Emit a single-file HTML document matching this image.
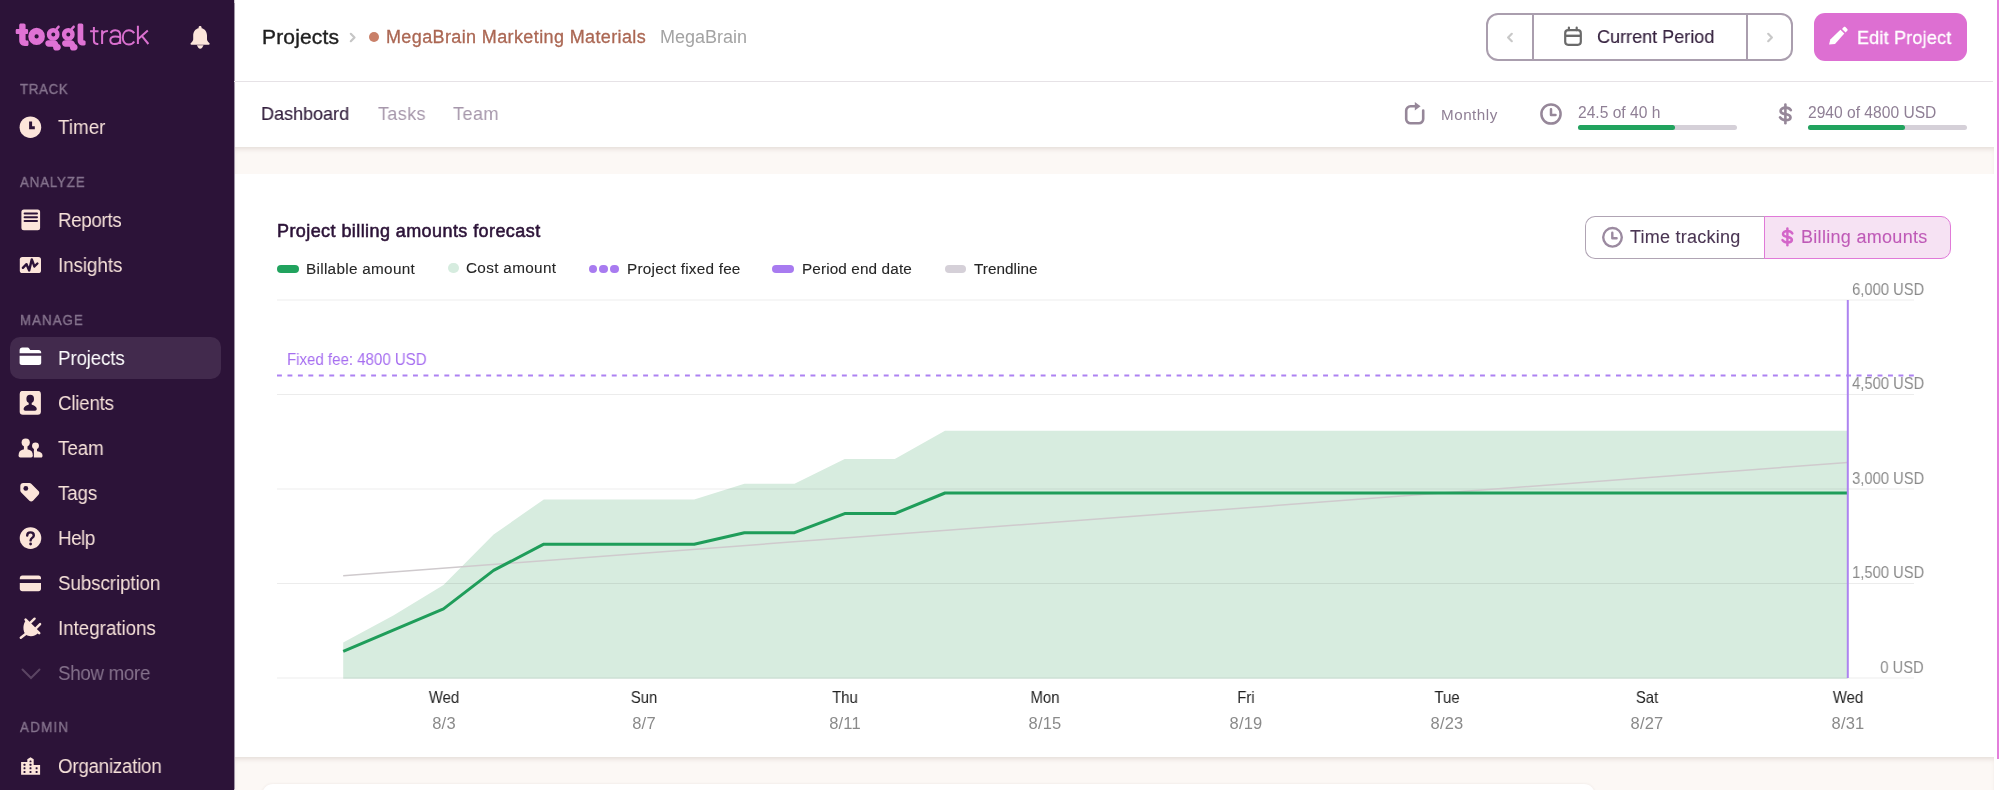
<!DOCTYPE html>
<html><head><meta charset="utf-8"><title>Toggl Track - Project</title>
<style>
html,body{margin:0;padding:0;width:1999px;height:790px;overflow:hidden;background:#fff;font-family:"Liberation Sans",sans-serif}
.t{position:absolute;white-space:nowrap;line-height:1;will-change:transform}
.a{position:absolute}
#sb{position:absolute;left:0;top:0;width:234px;height:790px;background:#2c1338;box-shadow:0.6px 0 1px rgba(44,19,56,0.45)}
.band{position:absolute;left:235px;width:1758.5px;background:#fcf8f5;box-shadow:inset 0 4px 5px -2px rgba(120,95,85,0.18)}
</style></head><body>
<div id="sb"></div>
<svg class="a" style="left:0;top:0" width="160" height="60" viewBox="0 0 160 60">
<g fill="#df72d4">
<path d="M19.2 25.2c0-1 .8-1.7 1.7-1.7h3c1 0 1.7.8 1.7 1.7v3.7h1.2c.8 0 1.3.6 1.3 1.3v2.5c0 .8-.6 1.3-1.3 1.3h-1.2v5.2c0 1 .6 1.4 1.5 1.4.9 0 1.4.5 1.4 1.3v2.5c0 .8-.6 1.5-1.5 1.5h-2.2c-3.6 0-5.6-2.1-5.6-5.6V34h-2.2c-.8 0-1.3-.6-1.3-1.3v-2.5c0-.8.6-1.3 1.3-1.3h2.2z"/>
<path fill-rule="evenodd" d="M36.6 27.8a8.3 8.6 0 1 1 0 17.2a8.3 8.6 0 1 1 0-17.2zM36.6 34.3a2.1 2.1 0 1 0 0 4.2a2.1 2.1 0 1 0 0-4.2z"/>
<path fill-rule="evenodd" d="M53.2 28a6.4 6.4 0 1 1 0 12.8a6.4 6.4 0 1 1 0-12.8zM53.3 32.6a2 2 0 1 0 0 4a2 2 0 1 0 0-4z"/>
<path d="M55.4 28.6l2.2-2.6c.5-.6 1.4-.6 1.9 0 .5.5.4 1.3-.1 1.8l-2 2.1z"/>
<path d="M48.6 40.2c-2.3 0-3.4 1.5-3.3 3.2.1 1.8 1.4 3.2 3.4 3.3h3.5c.6 0 1 .4 1 1 0 1.6 1.2 2.9 2.8 2.9h1.6c1.9 0 3.2-1.5 3.2-3.3 0-1.6-.9-2.9-2.4-3.4-.5-1.3-1.7-3.7-4-3.7z"/>
<path fill-rule="evenodd" d="M68.3 28a6.4 6.4 0 1 1 0 12.8a6.4 6.4 0 1 1 0-12.8zM68.3 32.6a2 2 0 1 0 0 4a2 2 0 1 0 0-4z"/>
<path d="M70.5 28.6l2.2-2.6c.5-.6 1.4-.6 1.9 0 .5.5.4 1.3-.1 1.8l-2 2.1z"/>
<path d="M65.4 40.2c-2.3 0-3.4 1.5-3.3 3.2.1 1.8 1.4 3.2 3.4 3.3h3.5c.6 0 1 .4 1 1 0 1.6 1.2 2.9 2.8 2.9h1.6c1.9 0 3.2-1.5 3.2-3.3 0-1.6-.9-2.9-2.4-3.4-.5-1.3-1.7-3.7-4-3.7z"/>
<path d="M77.6 25.3c0-1 .8-1.7 1.7-1.7h2.3c1 0 1.7.8 1.7 1.7v14.2c0 .6.4 1 1 1 .8 0 1.3.6 1.3 1.3v2.3c0 .8-.6 1.4-1.4 1.4h-1c-3.4 0-5.6-2-5.6-5.6z"/>
</g>
<g stroke="#da70cf" stroke-width="2" fill="none" stroke-linecap="butt">
<path d="M93.9 26.9V40.6c0 2.3 1 3.3 3.1 3.3h1.3M90.1 31.3h8.4"/>
<path d="M102.1 30.3V44M102.1 36c0-3.4 2.2-5.1 5.8-5.1"/>
<path d="M110.6 33c1-1.8 2.6-2.7 4.6-2.7 3.4 0 5 1.8 5 5.1V44M120.2 37.4c-1.3-.7-3-.9-5-.9-3.1 0-4.9 1.4-4.9 3.7 0 2.3 1.8 3.8 4.5 3.8 3 0 5.4-1.6 5.4-4.3"/>
<path d="M134.2 33.3c-1.1-1.9-3-3-5.3-3-3.6 0-6.1 3-6.1 7.1s2.5 7.1 6.1 7.1c2.3 0 4.2-1.1 5.3-3"/>
<path d="M137.9 25.8V44M147.8 30.5l-9.6 8.6M141.6 35.7l6.8 8.3"/>
</g>
</svg>
<svg class="a" style="left:189px;top:25px" width="22" height="25" viewBox="0 0 22 25">
<path d="M11.2 1c.8 0 1.4.6 1.4 1.4v.9c3.3.7 5.4 3.5 5.4 7.3v3.6c0 1.3 1 2.5 1.8 3.3l.7.8c.4.5.1 1.5-.7 1.5H2.4c-.8 0-1.1-1-.7-1.5l.7-.8c.8-.8 1.8-2 1.8-3.3v-3.6c0-3.8 2.1-6.6 5.4-7.3v-.9c0-.8.6-1.4 1.4-1.4z" fill="#fce5da"/>
<path d="M7.8 20.2h6.8l-1.5 2.5c-.9 1.3-2.9 1.3-3.8 0z" fill="#fce5da"/></svg>
<div class="t" style="left:20px;transform:scaleX(0.93);transform-origin:left center;top:81.70px;font-size:14.3px;color:#85738d;-webkit-text-stroke:0.4px #85738d;letter-spacing:0.737px;">TRACK</div>
<div class="t" style="left:20px;transform:scaleX(0.93);transform-origin:left center;top:174.60px;font-size:14.3px;color:#85738d;-webkit-text-stroke:0.4px #85738d;letter-spacing:0.894px;">ANALYZE</div>
<div class="t" style="left:20px;transform:scaleX(0.93);transform-origin:left center;top:312.60px;font-size:14.3px;color:#85738d;-webkit-text-stroke:0.4px #85738d;letter-spacing:1.127px;">MANAGE</div>
<div class="t" style="left:20px;transform:scaleX(0.93);transform-origin:left center;top:720.40px;font-size:14.3px;color:#85738d;-webkit-text-stroke:0.4px #85738d;letter-spacing:1.405px;">ADMIN</div>
<div class="a" style="left:10px;top:337px;width:211px;height:42px;border-radius:10px;background:#422a4d"></div>
<div class="t" style="left:58.2px;transform:scaleX(0.94);transform-origin:left center;top:117.27px;font-size:20px;color:#f7e2da;letter-spacing:0.019px;">Timer</div>
<svg class="a" style="left:19px;top:116px" width="23" height="23" viewBox="0 0 23 23"><circle cx="11.4" cy="11.2" r="10.8" fill="#fce5da"/><path d="M11.6 5.5v6.2h4.2" stroke="#2c1338" stroke-width="3" fill="none" stroke-linecap="butt" stroke-linejoin="miter"/></svg>
<div class="t" style="left:58.2px;transform:scaleX(0.94);transform-origin:left center;top:209.67px;font-size:20px;color:#f7e2da;letter-spacing:-0.398px;">Reports</div>
<svg class="a" style="left:21px;top:209px" width="20" height="22" viewBox="0 0 20 22"><rect x="0.4" y="0.6" width="18.7" height="20.7" rx="2.5" fill="#fce5da"/><path d="M3.6 4.4h12.4M3.6 8.2h12.4M3.6 12.1h12.4" stroke="#2c1338" stroke-width="2" stroke-linecap="round"/></svg>
<div class="t" style="left:58.2px;transform:scaleX(0.94);transform-origin:left center;top:254.67px;font-size:20px;color:#f7e2da;letter-spacing:-0.063px;">Insights</div>
<svg class="a" style="left:19px;top:256px" width="23" height="18" viewBox="0 0 23 18"><rect x="0.8" y="0.9" width="21.2" height="16.2" rx="2.6" fill="#fce5da"/><path d="M3.9 11.8L7.5 8.2L10.2 14.4L12.8 3.4L15.4 10.5L18.4 7.5" stroke="#2c1338" stroke-width="2.4" fill="none" stroke-linecap="round" stroke-linejoin="round"/></svg>
<div class="t" style="left:58.2px;transform:scaleX(0.94);transform-origin:left center;top:347.67px;font-size:20px;color:#ffffff;letter-spacing:-0.185px;">Projects</div>
<svg class="a" style="left:19px;top:347px" width="23" height="19" viewBox="0 0 23 19"><path d="M0.6 3.6C0.6 1.6 1.6 0.6 3.4 0.6H8.6C9.3 0.6 9.8 0.9 10.2 1.5L11.2 3H19.8C21.1 3 22.2 4.1 22.2 5.4V6.2H0.6Z" fill="#ffffff"/><path d="M0.6 8.7H22.2V16C22.2 17.2 21.2 18 20 18H2.8C1.6 18 0.6 17.2 0.6 16Z" fill="#ffffff"/></svg>
<div class="t" style="left:58.2px;transform:scaleX(0.94);transform-origin:left center;top:392.67px;font-size:20px;color:#f7e2da;letter-spacing:-0.263px;">Clients</div>
<svg class="a" style="left:19px;top:391px" width="23" height="25" viewBox="0 0 23 25"><rect x="0.7" y="-0.2" width="21.2" height="24" rx="3.2" fill="#fce5da"/><ellipse cx="11.2" cy="7.9" rx="3.8" ry="4.1" fill="#2c1338"/><rect x="9.7" y="10" width="3" height="4" fill="#2c1338"/><path d="M6.3 19.7C4.3 19.7 4.2 17.3 5.5 16C6.8 14.6 8.8 13.5 11.2 13.5C13.6 13.5 15.6 14.6 16.9 16C18.2 17.3 18.1 19.7 16.1 19.7Z" fill="#2c1338"/></svg>
<div class="t" style="left:58.2px;transform:scaleX(0.94);transform-origin:left center;top:437.67px;font-size:20px;color:#f7e2da;letter-spacing:-0.059px;">Team</div>
<svg class="a" style="left:18px;top:438px" width="26" height="21" viewBox="0 0 26 21"><g fill="#fce5da"><ellipse cx="7.7" cy="4.5" rx="4.1" ry="3.9"/><rect x="5.9" y="7" width="3.6" height="5"/><path d="M0.6 17.2C0.6 14 2 12.4 4.4 11.7L7.7 11L11 11.7C13.4 12.4 14.8 14 14.8 17.2C14.8 18.7 14.2 19.4 13 19.4H2.4C1.2 19.4 0.6 18.7 0.6 17.2Z"/><ellipse cx="17.5" cy="7.8" rx="3.45" ry="3.35"/><rect x="15.9" y="10" width="3.1" height="4"/><path d="M15.9 13.3H19.3C22.6 14 24.5 15.1 24.5 17.4C24.5 18.8 24 19.4 23 19.4H15.9Z"/></g></svg>
<div class="t" style="left:58.2px;transform:scaleX(0.94);transform-origin:left center;top:482.67px;font-size:20px;color:#f7e2da;letter-spacing:-0.183px;">Tags</div>
<svg class="a" style="left:20px;top:482px" width="21" height="21" viewBox="0 0 21 21"><path d="M0.3 4C0.3 2.3 1.5 1.1 3.2 1.1H9.3C10.1 1.1 10.9 1.4 11.5 2L18.5 9C19.5 10 19.5 11.7 18.5 12.7L13 18.8C12 19.8 10.4 19.8 9.4 18.8L1.2 10.6C0.6 10 0.3 9.3 0.3 8.5Z" fill="#fce5da"/><circle cx="5.8" cy="6.4" r="2.4" fill="#2c1338"/></svg>
<div class="t" style="left:58.2px;transform:scaleX(0.94);transform-origin:left center;top:527.67px;font-size:20px;color:#f7e2da;letter-spacing:-0.525px;">Help</div>
<svg class="a" style="left:19px;top:527px" width="23" height="23" viewBox="0 0 23 23"><circle cx="11.5" cy="11.1" r="10.8" fill="#fce5da"/><path d="M8.2 8.6c0-1.9 1.4-3.2 3.3-3.2s3.3 1.2 3.3 3c0 2.4-3.2 2.6-3.2 5" stroke="#2c1338" stroke-width="2.4" fill="none" stroke-linecap="round"/><circle cx="11.6" cy="17" r="1.4" fill="#2c1338"/></svg>
<div class="t" style="left:58.2px;transform:scaleX(0.94);transform-origin:left center;top:572.67px;font-size:20px;color:#f7e2da;letter-spacing:-0.101px;">Subscription</div>
<svg class="a" style="left:19px;top:574px" width="23" height="18" viewBox="0 0 23 18"><path d="M0.8 4C0.8 2.5 1.8 1.4 3.3 1.4H19.5C21 1.4 22 2.5 22 4V5.3H0.8Z" fill="#fce5da"/><path d="M0.8 9.1H22V14.8C22 16.3 21 17.3 19.5 17.3H3.3C1.8 17.3 0.8 16.3 0.8 14.8Z" fill="#fce5da"/></svg>
<div class="t" style="left:58.2px;transform:scaleX(0.94);transform-origin:left center;top:617.67px;font-size:20px;color:#f7e2da;letter-spacing:-0.042px;">Integrations</div>
<svg class="a" style="left:19px;top:617px" width="23" height="23" viewBox="0 0 23 23"><path d="M7.1 3.1L19.7 15.6C16.5 19.5 10.5 20.5 6.6 17.6C3.6 14 3.6 7.5 7.1 3.1Z" fill="#fce5da"/><g stroke="#fce5da" stroke-linecap="round"><path d="M6.6 2.6L20.2 16.1" stroke-width="2.6"/><path d="M6.6 17L1.8 20.8M11.2 5.9L15.6 1.7M17.1 11.2L21.1 7.1" stroke-width="2.4"/></g></svg>
<div class="t" style="left:58.2px;transform:scaleX(0.94);transform-origin:left center;top:662.67px;font-size:20px;color:#85728c;letter-spacing:-0.357px;">Show more</div>
<svg class="a" style="left:20px;top:667px" width="22" height="14" viewBox="0 0 22 14"><path d="M2.5 2.5l8.5 8.5 8.5-8.5" stroke="#5b4563" stroke-width="2" fill="none" stroke-linecap="round"/></svg>
<div class="t" style="left:58.2px;transform:scaleX(0.94);transform-origin:left center;top:755.67px;font-size:20px;color:#f7e2da;letter-spacing:-0.28px;">Organization</div>
<svg class="a" style="left:20px;top:757px" width="21" height="19" viewBox="0 0 21 19"><path d="M1.1 4.9H7.3V2.2L10.5 0.3L13.7 2.2V8H20.1V17.7H1.1Z" fill="#fce5da"/><g fill="#2c1338"><rect x="3.55" y="6.85" width="1.9" height="1.9" rx="0.5"/><rect x="9.55" y="3.45" width="1.9" height="1.9" rx="0.5"/><rect x="9.55" y="6.85" width="1.9" height="1.9" rx="0.5"/><rect x="3.55" y="10.350000000000001" width="1.9" height="1.9" rx="0.5"/><rect x="9.55" y="10.350000000000001" width="1.9" height="1.9" rx="0.5"/><rect x="15.650000000000002" y="10.350000000000001" width="1.9" height="1.9" rx="0.5"/><rect x="3.55" y="14.05" width="1.9" height="1.9" rx="0.5"/><rect x="9.55" y="14.05" width="1.9" height="1.9" rx="0.5"/><rect x="15.650000000000002" y="14.05" width="1.9" height="1.9" rx="0.5"/></g></svg>
<div class="a" style="left:234px;top:80.5px;width:1759px;height:1px;background:#e6e2e6"></div>
<div class="t" style="left:261.9px;top:25.72px;font-size:21px;color:#1f1f1f;-webkit-text-stroke:0.4px #1f1f1f;letter-spacing:0.164px;">Projects</div>
<svg class="a" style="left:346px;top:30px" width="14" height="15" viewBox="0 0 14 15"><path d="M4.8 3.8l3.7 3.7-3.7 3.7" stroke="#c6c6c6" stroke-width="2.2" fill="none" stroke-linecap="round" stroke-linejoin="round"/></svg>
<div class="a" style="left:368.6px;top:32px;width:10px;height:10px;border-radius:50%;background:#c98069"></div>
<div class="t" style="left:386.2px;top:27.96px;font-size:18px;color:#ab6753;-webkit-text-stroke:0.3px #ab6753;letter-spacing:0.38px;">MegaBrain Marketing Materials</div>
<div class="t" style="left:660px;top:27.96px;font-size:18px;color:#a3a3a3;">MegaBrain</div>
<div class="a" style="left:1486px;top:13px;width:303px;height:44px;border:2px solid #aa9eae;border-radius:12px"></div>
<div class="a" style="left:1532px;top:14px;width:2px;height:46px;background:#aa9eae"></div>
<div class="a" style="left:1745.5px;top:14px;width:2px;height:46px;background:#aa9eae"></div>
<svg class="a" style="left:1503px;top:30px" width="14" height="15" viewBox="0 0 14 15"><path d="M8.8 3.8l-3.7 3.7 3.7 3.7" stroke="#c8c8c8" stroke-width="2.2" fill="none" stroke-linecap="round" stroke-linejoin="round"/></svg>
<svg class="a" style="left:1763px;top:30px" width="14" height="15" viewBox="0 0 14 15"><path d="M5.2 3.8l3.7 3.7-3.7 3.7" stroke="#c8c8c8" stroke-width="2.2" fill="none" stroke-linecap="round" stroke-linejoin="round"/></svg>
<svg class="a" style="left:1563px;top:26px" width="20" height="21" viewBox="0 0 20 21"><rect x="2.2" y="4.2" width="15.6" height="14.6" rx="3" stroke="#6a6a6a" stroke-width="2.2" fill="none"/><path d="M2.2 9.8h15.6" stroke="#6a6a6a" stroke-width="2.4"/><path d="M5.9 1.6v2.6M13.7 1.6v2.6" stroke="#6a6a6a" stroke-width="2.2" stroke-linecap="round"/></svg>
<div class="t" style="left:1597.4px;transform:scaleX(0.95);transform-origin:left center;top:27.22px;font-size:19px;color:#36223f;-webkit-text-stroke:0.15px #36223f;letter-spacing:-0.006px;">Current Period</div>
<div class="a" style="left:1814px;top:13px;width:153px;height:48px;border-radius:11px;background:#dd6fd2"></div>
<svg class="a" style="left:1828px;top:25px" width="21" height="21" viewBox="0 0 21 21"><path d="M1.1 19.5L2.3 14.4L12.4 4.7L16.3 8.6L7 19.1Z" fill="#fff"/><path d="M14 4L15.6 2.2C16.1 1.6 16.9 1.6 17.4 2.1L19.3 4C19.8 4.5 19.8 5.3 19.2 5.8L17.6 7.6Z" fill="#fff"/></svg>
<div class="t" style="left:1856.5px;transform:scaleX(0.95);transform-origin:left center;top:28.12px;font-size:19px;color:#ffffff;-webkit-text-stroke:0.3px #ffffff;letter-spacing:0.192px;">Edit Project</div>
<div class="t" style="left:261.4px;transform:scaleX(0.95);transform-origin:left center;top:104.02px;font-size:19px;color:#34203e;-webkit-text-stroke:0.15px #34203e;letter-spacing:-0.027px;">Dashboard</div>
<div class="t" style="left:377.6px;transform:scaleX(0.95);transform-origin:left center;top:104.02px;font-size:19px;color:#a697ab;letter-spacing:0.363px;">Tasks</div>
<div class="t" style="left:452.6px;transform:scaleX(0.95);transform-origin:left center;top:104.02px;font-size:19px;color:#a697ab;letter-spacing:0.482px;">Team</div>
<svg class="a" style="left:1403px;top:101px" width="24" height="26" viewBox="0 0 24 26"><path d="M20.2 9.6V18a4.3 4.3 0 0 1-4.3 4.3H7.5a4.3 4.3 0 0 1-4.3-4.3V9.6a4.3 4.3 0 0 1 4.3-4.3H12.5" stroke="#968799" stroke-width="2.6" fill="none" stroke-linecap="round"/><path d="M11.8 1L17.6 5.3L11.8 9.6Z" fill="#968799"/></svg>
<div class="t" style="left:1441.2px;top:106.73px;font-size:15.2px;color:#8f7f95;letter-spacing:0.517px;">Monthly</div>
<svg class="a" style="left:1539px;top:102px" width="24" height="24" viewBox="0 0 24 24"><circle cx="12" cy="12" r="9.6" stroke="#968799" stroke-width="2.5" fill="none"/><path d="M12 7.2v5.8h4.5" stroke="#968799" stroke-width="2.5" fill="none" stroke-linecap="round" stroke-linejoin="round"/></svg>
<div class="t" style="left:1578px;top:105.09px;font-size:15.6px;color:#8f7f95;">24.5 of 40 h</div>
<div class="a" style="left:1578px;top:124.5px;width:159px;height:5.5px;border-radius:3px;background:#d5d0d8"></div>
<div class="a" style="left:1578px;top:124.5px;width:97px;height:5.5px;border-radius:3px;background:#21a35e"></div>
<svg class="a" style="left:1777px;top:103px" width="17" height="23" viewBox="0 0 17 23"><path d="M13.8 7.1C12.8 5.4 11 4.6 8.6 4.6C5.8 4.6 3.6 6 3.6 8C3.6 10.4 6 10.8 8.6 11.2C11.5 11.7 13.5 12.3 13.5 14.5C13.5 16.5 11.2 17.1 8.6 17.1C6.2 17.1 4.2 16.2 3.1 14.4" stroke="#968799" stroke-width="2.7" fill="none" stroke-linecap="round"/><path d="M8.4 1.6V20.2" stroke="#968799" stroke-width="2.6" stroke-linecap="round"/></svg>
<div class="t" style="left:1808.3px;top:105.09px;font-size:15.6px;color:#8f7f95;">2940 of 4800 USD</div>
<div class="a" style="left:1808px;top:124.6px;width:159px;height:5.2px;border-radius:3px;background:#d5d0d8"></div>
<div class="a" style="left:1808px;top:124.6px;width:97px;height:5.2px;border-radius:3px;background:#21a35e"></div>
<div class="band" style="top:147px;height:26.8px"></div>
<div class="band" style="top:757px;height:40px"></div>
<div class="a" style="left:262px;top:784px;width:1333px;height:30px;border-radius:11px;background:#fff;box-shadow:0 0 3px rgba(60,30,20,0.08)"></div>
<div class="a" style="left:1997px;top:0;width:2px;height:759px;background:#e47fdb"></div>
<div class="t" style="left:276.9px;top:221.86px;font-size:18px;color:#2c1338;-webkit-text-stroke:0.55px #2c1338;letter-spacing:0.42px;">Project billing amounts forecast</div>
<div class="a" style="left:277px;top:265px;width:21.5px;height:8px;border-radius:4px;background:#21a35e"></div>
<div class="t" style="left:306.2px;top:261.15px;font-size:15.3px;color:#262626;-webkit-text-stroke:0.1px #262626;letter-spacing:0.3px;">Billable amount</div>
<div class="a" style="left:448px;top:262.5px;width:10.5px;height:10.5px;border-radius:50%;background:#d6ecdf"></div>
<div class="t" style="left:466.4px;top:260.15px;font-size:15.3px;color:#262626;-webkit-text-stroke:0.1px #262626;letter-spacing:0.325px;">Cost amount</div>
<div class="a" style="left:588.9px;top:264.5px;width:8.6px;height:8.6px;border-radius:50%;background:#a87bf0"></div>
<div class="a" style="left:599.3px;top:264.5px;width:8.6px;height:8.6px;border-radius:50%;background:#a87bf0"></div>
<div class="a" style="left:610.0px;top:264.5px;width:8.6px;height:8.6px;border-radius:50%;background:#a87bf0"></div>
<div class="t" style="left:626.6px;top:261.15px;font-size:15.3px;color:#262626;-webkit-text-stroke:0.1px #262626;letter-spacing:0.231px;">Project fixed fee</div>
<div class="a" style="left:771.6px;top:265px;width:22px;height:8px;border-radius:4px;background:#a87bf0"></div>
<div class="t" style="left:801.8px;top:261.15px;font-size:15.3px;color:#262626;-webkit-text-stroke:0.1px #262626;letter-spacing:0.125px;">Period end date</div>
<div class="a" style="left:944.5px;top:265px;width:21.5px;height:8px;border-radius:4px;background:#d5d0d8"></div>
<div class="t" style="left:974.2px;top:261.15px;font-size:15.3px;color:#262626;-webkit-text-stroke:0.1px #262626;letter-spacing:0.037px;">Trendline</div>
<div class="a" style="left:1585px;top:216px;width:180px;height:42.5px;box-sizing:border-box;border:1.8px solid #b0a4b4;border-right:none;border-radius:10px 0 0 10px;background:#fff"></div>
<div class="a" style="left:1764px;top:216px;width:187px;height:42.5px;box-sizing:border-box;border:1.8px solid #e07ad8;border-radius:0 10px 10px 0;background:#f6e2f3"></div>
<svg class="a" style="left:1601px;top:226px" width="23" height="23" viewBox="0 0 23 23"><circle cx="11.5" cy="11.3" r="9.3" stroke="#9b8aa0" stroke-width="2.4" fill="none"/><path d="M11.3 6.8v5.5h4.3" stroke="#9b8aa0" stroke-width="2.4" fill="none" stroke-linecap="round" stroke-linejoin="round"/></svg>
<div class="t" style="left:1630.2px;top:227.96px;font-size:18px;color:#4b3654;-webkit-text-stroke:0.1px #4b3654;letter-spacing:0.25px;">Time tracking</div>
<svg class="a" style="left:1779px;top:226px" width="17" height="22" viewBox="0 0 17 22"><path d="M13.3 7.4C12.4 5.8 10.7 5 8.5 5C6 5 4 6.3 4 8.1C4 10.3 6.2 10.7 8.5 11.1C11.1 11.5 12.9 12.1 12.9 14.1C12.9 15.9 10.8 16.5 8.5 16.5C6.3 16.5 4.5 15.7 3.5 14.1" stroke="#d366c9" stroke-width="2.5" fill="none" stroke-linecap="round"/><path d="M8.4 2.4V19.3" stroke="#d366c9" stroke-width="2.4" stroke-linecap="round"/></svg>
<div class="t" style="left:1800.9px;top:227.96px;font-size:18px;color:#bf5ab7;-webkit-text-stroke:0.1px #bf5ab7;letter-spacing:0.3px;">Billing amounts</div>
<svg class="a" style="left:0;top:0" width="1999" height="790" viewBox="0 0 1999 790">
<polygon points="343.2,678.8 343.2,642.6 393.3,615.5 443.5,585 493.6,534.5 543.8,499.4 694.2,499.4 744.4,483.8 794.5,483.8 844.7,458.9 894.8,458.9 945.0,430.8 1847.7,430.8 1847.7,678.8" fill="#d7ecdf"/>
<path d="M277 300H1914" stroke="rgba(0,0,0,0.075)" stroke-width="1.2"/><path d="M277 394.5H1914" stroke="rgba(0,0,0,0.075)" stroke-width="1.2"/><path d="M277 489H1914" stroke="rgba(0,0,0,0.075)" stroke-width="1.2"/><path d="M277 583.5H1914" stroke="rgba(0,0,0,0.075)" stroke-width="1.2"/><path d="M277 678H1914" stroke="rgba(0,0,0,0.075)" stroke-width="1.2"/>
<path d="M343.2 575.8L1847.5 462.5" stroke="#cfcacd" stroke-width="1.5"/>
<polyline points="343.2,651.4 393.3,630.1 443.5,608.9 493.6,570.4 543.8,544.2 694.2,544.2 744.4,532.7 794.5,532.7 844.7,513.6 894.8,513.6 945.0,493 1847.7,493" stroke="#1f9d5a" stroke-width="3" fill="none" stroke-linejoin="round"/>
<path d="M277 375.5H1915" stroke="#ad82f2" stroke-width="2" stroke-dasharray="4.9 5.561"/>
<path d="M1847.8 300V678" stroke="#ad83f0" stroke-width="2"/>
</svg>
<div class="t" style="left:287.1px;transform:scaleX(0.94);transform-origin:left center;top:352.46px;font-size:16px;color:#a66ef0;">Fixed fee: 4800 USD</div>
<div class="t" style="right:75px;transform:scaleX(0.91);transform-origin:right center;top:280.99px;font-size:16.2px;color:#8a8a8a;">6,000 USD</div>
<div class="t" style="right:75px;transform:scaleX(0.91);transform-origin:right center;top:375.49px;font-size:16.2px;color:#8a8a8a;">4,500 USD</div>
<div class="t" style="right:75px;transform:scaleX(0.91);transform-origin:right center;top:469.99px;font-size:16.2px;color:#8a8a8a;">3,000 USD</div>
<div class="t" style="right:75px;transform:scaleX(0.91);transform-origin:right center;top:564.49px;font-size:16.2px;color:#8a8a8a;">1,500 USD</div>
<div class="t" style="right:75px;transform:scaleX(0.91);transform-origin:right center;top:658.99px;font-size:16.2px;color:#8a8a8a;">0 USD</div>
<div class="t" style="left:443.5px;transform:translateX(-50%) scaleX(0.9);transform-origin:center center;top:688.63px;font-size:16.5px;color:#222222;">Wed</div>
<div class="t" style="left:443.5px;transform:translateX(-50%);transform-origin:center center;top:715.13px;font-size:16.5px;color:#8a8a8a;letter-spacing:0.2px;">8/3</div>
<div class="t" style="left:644.1px;transform:translateX(-50%) scaleX(0.9);transform-origin:center center;top:688.63px;font-size:16.5px;color:#222222;">Sun</div>
<div class="t" style="left:644.1px;transform:translateX(-50%);transform-origin:center center;top:715.13px;font-size:16.5px;color:#8a8a8a;letter-spacing:0.2px;">8/7</div>
<div class="t" style="left:844.7px;transform:translateX(-50%) scaleX(0.9);transform-origin:center center;top:688.63px;font-size:16.5px;color:#222222;">Thu</div>
<div class="t" style="left:844.7px;transform:translateX(-50%);transform-origin:center center;top:715.13px;font-size:16.5px;color:#8a8a8a;letter-spacing:0.2px;">8/11</div>
<div class="t" style="left:1045.3px;transform:translateX(-50%) scaleX(0.9);transform-origin:center center;top:688.63px;font-size:16.5px;color:#222222;">Mon</div>
<div class="t" style="left:1045.3px;transform:translateX(-50%);transform-origin:center center;top:715.13px;font-size:16.5px;color:#8a8a8a;letter-spacing:0.2px;">8/15</div>
<div class="t" style="left:1245.9px;transform:translateX(-50%) scaleX(0.9);transform-origin:center center;top:688.63px;font-size:16.5px;color:#222222;">Fri</div>
<div class="t" style="left:1245.9px;transform:translateX(-50%);transform-origin:center center;top:715.13px;font-size:16.5px;color:#8a8a8a;letter-spacing:0.2px;">8/19</div>
<div class="t" style="left:1446.5px;transform:translateX(-50%) scaleX(0.9);transform-origin:center center;top:688.63px;font-size:16.5px;color:#222222;">Tue</div>
<div class="t" style="left:1446.5px;transform:translateX(-50%);transform-origin:center center;top:715.13px;font-size:16.5px;color:#8a8a8a;letter-spacing:0.2px;">8/23</div>
<div class="t" style="left:1647.1px;transform:translateX(-50%) scaleX(0.9);transform-origin:center center;top:688.63px;font-size:16.5px;color:#222222;">Sat</div>
<div class="t" style="left:1647.1px;transform:translateX(-50%);transform-origin:center center;top:715.13px;font-size:16.5px;color:#8a8a8a;letter-spacing:0.2px;">8/27</div>
<div class="t" style="left:1847.7px;transform:translateX(-50%) scaleX(0.9);transform-origin:center center;top:688.63px;font-size:16.5px;color:#222222;">Wed</div>
<div class="t" style="left:1847.7px;transform:translateX(-50%);transform-origin:center center;top:715.13px;font-size:16.5px;color:#8a8a8a;letter-spacing:0.2px;">8/31</div>
</body></html>
